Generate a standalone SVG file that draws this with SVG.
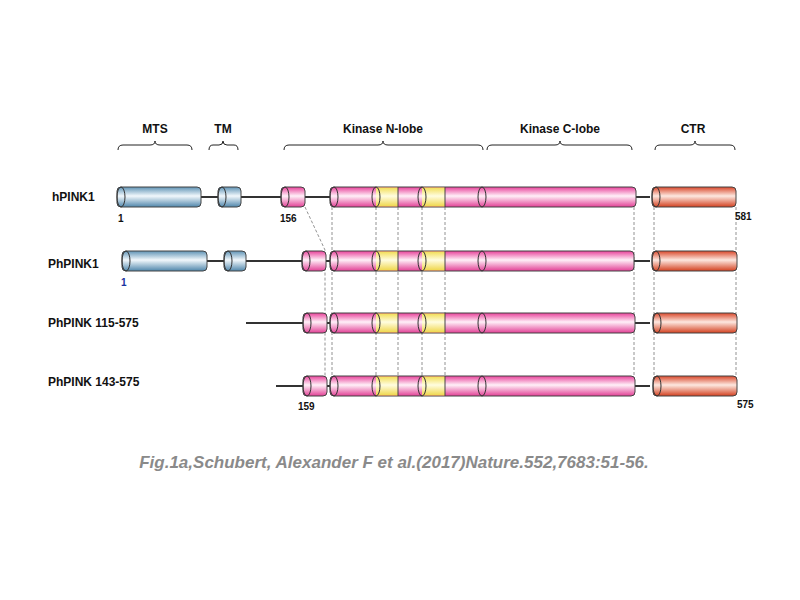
<svg xmlns="http://www.w3.org/2000/svg" width="800" height="600" viewBox="0 0 800 600">
<defs>
<linearGradient id="gb" x1="0" y1="0" x2="0" y2="1"><stop offset="0" stop-color="#5f93b5"/><stop offset="0.45" stop-color="#f2f8fc"/><stop offset="1" stop-color="#4f86ab"/></linearGradient>
<linearGradient id="gp" x1="0" y1="0" x2="0" y2="1"><stop offset="0" stop-color="#e8419a"/><stop offset="0.45" stop-color="#fff0f8"/><stop offset="1" stop-color="#e23f95"/></linearGradient>
<linearGradient id="gy" x1="0" y1="0" x2="0" y2="1"><stop offset="0" stop-color="#f2dd55"/><stop offset="0.45" stop-color="#fffde0"/><stop offset="1" stop-color="#efd64a"/></linearGradient>
<linearGradient id="gr" x1="0" y1="0" x2="0" y2="1"><stop offset="0" stop-color="#d9472a"/><stop offset="0.45" stop-color="#fde8e0"/><stop offset="1" stop-color="#d3401f"/></linearGradient>
</defs>
<style>
.t{font-family:"Liberation Sans",Arial,sans-serif;font-weight:bold;font-size:12px;fill:#111}
.n{font-family:"Liberation Sans",Arial,sans-serif;font-weight:bold;font-size:10px;fill:#111}
.c{stroke:#444;stroke-width:1}
.cap{fill:none;stroke:#333;stroke-width:1}
.ln{stroke:#333;stroke-width:2}
.d{stroke:#777;stroke-width:0.8;stroke-dasharray:3,2;fill:none}
.br{fill:none;stroke:#222;stroke-width:1}
</style>
<g id="braces">
<path class="br" d="M118,150 Q118,145 123,145 H150 Q155,145 155,141 Q155,145 160,145 H187 Q192,145 192,150"/>
<path class="br" d="M209,150 Q209,145 213,145 H219 Q223,145 223,141 Q223,145 227,145 H234 Q238,145 238,150"/>
<path class="br" d="M284,150 Q284,145 289,145 H378 Q383,145 383,141 Q383,145 388,145 H478 Q483,145 483,150"/>
<path class="br" d="M487,150 Q487,145 492,145 H555 Q560,145 560,141 Q560,145 565,145 H627 Q632,145 632,150"/>
<path class="br" d="M655,150 Q655,145 660,145 H690 Q695,145 695,141 Q695,145 700,145 H730 Q735,145 735,150"/>
<text class="t" x="155" y="133" text-anchor="middle">MTS</text>
<text class="t" x="223" y="133" text-anchor="middle">TM</text>
<text class="t" x="383" y="133" text-anchor="middle">Kinase N-lobe</text>
<text class="t" x="560" y="133" text-anchor="middle">Kinase C-lobe</text>
<text class="t" x="693" y="133" text-anchor="middle">CTR</text>
</g>
<g id="connectors">
<path class="d" d="M305,207 L325,250 V395"/>
<path class="d" d="M332,207 V395 M376,207 V395 M398,207 V395 M422,207 V395 M445,207 V395 M634,207 V395 M654,207 V395 M736,207 V395"/>
</g>
<g id="row1">
<text class="t" x="52" y="201">hPINK1</text>
<line class="ln" x1="200" y1="197" x2="650" y2="197"/>
<rect class="c" x="117" y="187" width="84" height="20" rx="4" fill="url(#gb)"/><ellipse class="cap" cx="121" cy="197" rx="4" ry="10"/>
<rect class="c" x="218" y="187" width="23" height="20" rx="4" fill="url(#gb)"/><ellipse class="cap" cx="222" cy="197" rx="4" ry="10"/>
<rect class="c" x="281" y="187" width="24" height="20" rx="4" fill="url(#gp)"/><ellipse class="cap" cx="285" cy="197" rx="4" ry="10"/>
<rect class="c" x="330" y="187" width="306" height="20" rx="4" fill="url(#gp)"/>
<rect x="376" y="187.5" width="22" height="19" fill="url(#gy)"/><rect x="422" y="187.5" width="23" height="19" fill="url(#gy)"/>
<ellipse class="cap" cx="334" cy="197" rx="4" ry="10"/><ellipse class="cap" cx="376" cy="197" rx="4" ry="10"/><ellipse class="cap" cx="422" cy="197" rx="4" ry="10"/><ellipse class="cap" cx="482" cy="197" rx="4" ry="10"/>
<line class="c" x1="398" y1="187" x2="398" y2="207"/><line class="c" x1="445" y1="187" x2="445" y2="207"/>
<rect class="c" x="652" y="187" width="84" height="20" rx="4" fill="url(#gr)"/><ellipse class="cap" cx="656" cy="197" rx="4" ry="10"/>
<text class="n" x="118" y="222" fill="#111">1</text><text class="n" x="280" y="222">156</text><text class="n" x="735" y="220">581</text>
</g>
<g id="row2">
<text class="t" x="48" y="268">PhPINK1</text>
<line class="ln" x1="205" y1="261" x2="650" y2="261"/>
<rect class="c" x="122" y="251" width="85" height="20" rx="4" fill="url(#gb)"/><ellipse class="cap" cx="126" cy="261" rx="4" ry="10"/>
<rect class="c" x="224" y="251" width="22" height="20" rx="4" fill="url(#gb)"/><ellipse class="cap" cx="228" cy="261" rx="4" ry="10"/>
<rect class="c" x="302" y="251" width="24" height="20" rx="4" fill="url(#gp)"/><ellipse class="cap" cx="306" cy="261" rx="4" ry="10"/>
<rect class="c" x="330" y="251" width="304" height="20" rx="4" fill="url(#gp)"/>
<rect x="376" y="251.5" width="22" height="19" fill="url(#gy)"/><rect x="422" y="251.5" width="23" height="19" fill="url(#gy)"/>
<ellipse class="cap" cx="334" cy="261" rx="4" ry="10"/><ellipse class="cap" cx="376" cy="261" rx="4" ry="10"/><ellipse class="cap" cx="422" cy="261" rx="4" ry="10"/><ellipse class="cap" cx="482" cy="261" rx="4" ry="10"/>
<line class="c" x1="398" y1="251" x2="398" y2="271"/><line class="c" x1="445" y1="251" x2="445" y2="271"/>
<rect class="c" x="652" y="251" width="85" height="20" rx="4" fill="url(#gr)"/><ellipse class="cap" cx="656" cy="261" rx="4" ry="10"/>
<text class="n" x="121" y="286" style="fill:#1a33a0">1</text>
</g>
<g id="row3">
<text class="t" x="48" y="327">PhPINK 115-575</text>
<line class="ln" x1="246" y1="323" x2="650" y2="323"/>
<rect class="c" x="303" y="313" width="24" height="20" rx="4" fill="url(#gp)"/><ellipse class="cap" cx="307" cy="323" rx="4" ry="10"/>
<rect class="c" x="330" y="313" width="305" height="20" rx="4" fill="url(#gp)"/>
<rect x="376" y="313.5" width="22" height="19" fill="url(#gy)"/><rect x="422" y="313.5" width="23" height="19" fill="url(#gy)"/>
<ellipse class="cap" cx="334" cy="323" rx="4" ry="10"/><ellipse class="cap" cx="376" cy="323" rx="4" ry="10"/><ellipse class="cap" cx="422" cy="323" rx="4" ry="10"/><ellipse class="cap" cx="482" cy="323" rx="4" ry="10"/>
<line class="c" x1="398" y1="313" x2="398" y2="333"/><line class="c" x1="445" y1="313" x2="445" y2="333"/>
<rect class="c" x="653" y="313" width="84" height="20" rx="4" fill="url(#gr)"/><ellipse class="cap" cx="657" cy="323" rx="4" ry="10"/>
</g>
<g id="row4">
<text class="t" x="48" y="386">PhPINK 143-575</text>
<line class="ln" x1="276" y1="386" x2="650" y2="386"/>
<rect class="c" x="303" y="376" width="24" height="20" rx="4" fill="url(#gp)"/><ellipse class="cap" cx="307" cy="386" rx="4" ry="10"/>
<rect class="c" x="330" y="376" width="305" height="20" rx="4" fill="url(#gp)"/>
<rect x="376" y="376.5" width="22" height="19" fill="url(#gy)"/><rect x="422" y="376.5" width="23" height="19" fill="url(#gy)"/>
<ellipse class="cap" cx="334" cy="386" rx="4" ry="10"/><ellipse class="cap" cx="376" cy="386" rx="4" ry="10"/><ellipse class="cap" cx="422" cy="386" rx="4" ry="10"/><ellipse class="cap" cx="482" cy="386" rx="4" ry="10"/>
<line class="c" x1="398" y1="376" x2="398" y2="396"/><line class="c" x1="445" y1="376" x2="445" y2="396"/>
<rect class="c" x="653" y="376" width="84" height="20" rx="4" fill="url(#gr)"/><ellipse class="cap" cx="657" cy="386" rx="4" ry="10"/>
<text class="n" x="298" y="410">159</text><text class="n" x="737" y="408">575</text>
</g>
<text x="394" y="468" text-anchor="middle" style="font-family:'Liberation Sans',Arial,sans-serif;font-weight:bold;font-style:italic;font-size:17px;fill:#8a8a8a">Fig.1a,Schubert, Alexander F et al.(2017)Nature.552,7683:51-56.</text>
</svg>
